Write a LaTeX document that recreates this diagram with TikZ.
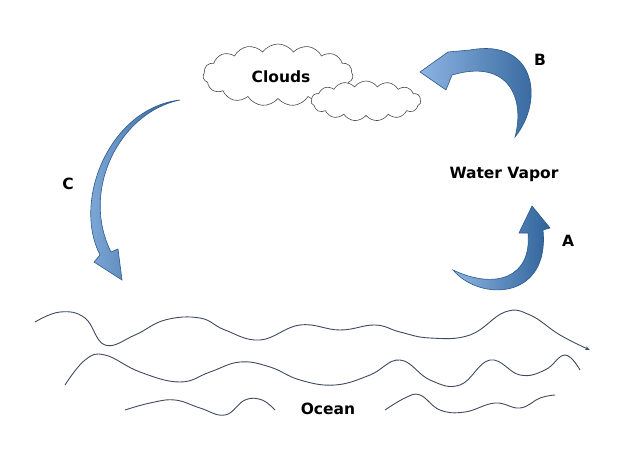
\documentclass[tikz,border=0pt]{standalone}
\usepackage{fontspec}
\setmainfont{DejaVu Sans}
\usetikzlibrary{shapes.symbols,arrows.meta}
\definecolor{alight}{HTML}{8DB4E2}
\definecolor{adark}{HTML}{2F6299}
\definecolor{aline}{HTML}{2A5A8C}
\definecolor{wcol}{HTML}{3E4A5E}
\begin{document}
\begin{tikzpicture}[x=1pt,y=-1pt,
  cl/.style={cloud,cloud puffs=15,cloud puff arc=110,aspect=2.4,draw=black!70,fill=white,line width=0.6pt},
  ca/.style={draw=aline,line width=0.6pt,left color=alight,right color=adark},
  wave/.style={draw=wcol,line width=0.9pt},
  lab/.style={font=\bfseries\fontsize{15.5}{18}\selectfont}]
\useasboundingbox (0,0) rectangle (628,457);
\node[cl,minimum width=150pt,minimum height=62pt] (c1) at (278,75) {};
\node[cl,minimum width=110pt,minimum height=40pt] (c2) at (366,101) {};
\node[lab] (clouds) at (281,77) {Clouds};
\node[lab] (wv) at (504,174) {Water Vapor};
\node[lab] (A) at (568,241) {A};
\node[lab] (B) at (540,60) {B};
\node[lab] (C) at (68,184) {C};
\node[lab] (ocean) at (328,409) {Ocean};
% arrow B
\path[ca] (515,137) .. controls (545,100) and (535,38) .. (470,50) -- (448,52) -- (420,72) -- (446,90) -- (452,75)
  .. controls (510,58) and (525,100) .. (515,137) -- cycle;
% arrow A
\path[ca] (453,270) .. controls (495,290) and (532,278) .. (528,233) -- (519,233) -- (532,206) -- (550,228) -- (543,230)
  .. controls (550,300) and (480,302) .. (453,270) -- cycle;
% arrow C
\path[ca] (180,100) .. controls (110,108) and (72,200) .. (100,255) -- (94,262) -- (122,280) -- (118,249) -- (111,252)
  .. controls (80,190) and (120,112) .. (180,100) -- cycle;
% waves
\draw[wave,-{Stealth[length=5pt]}] plot[smooth,tension=0.7] coordinates {(35,322) (60,312) (85,318) (105,345) (135,335) (165,320) (200,318) (225,330) (260,340) (300,325) (340,330) (375,325) (400,332) (430,338) (470,335) (505,312) (530,315) (560,335) (590,350)};
\draw[wave] plot[smooth,tension=0.7] coordinates {(65,385) (85,360) (105,355) (140,372) (180,382) (210,372) (240,362) (270,367) (300,380) (335,385) (370,375) (400,360) (430,380) (460,385) (490,360) (520,375) (545,370) (565,355) (580,370)};
\draw[wave] plot[smooth,tension=0.7] coordinates {(125,410) (150,403) (175,400) (200,408) (225,415) (245,400) (262,400) (275,410)};
\draw[wave] plot[smooth,tension=0.7] coordinates {(385,410) (405,398) (420,395) (440,410) (465,412) (495,403) (520,408) (540,398) (555,395)};
\end{tikzpicture}
\end{document}
